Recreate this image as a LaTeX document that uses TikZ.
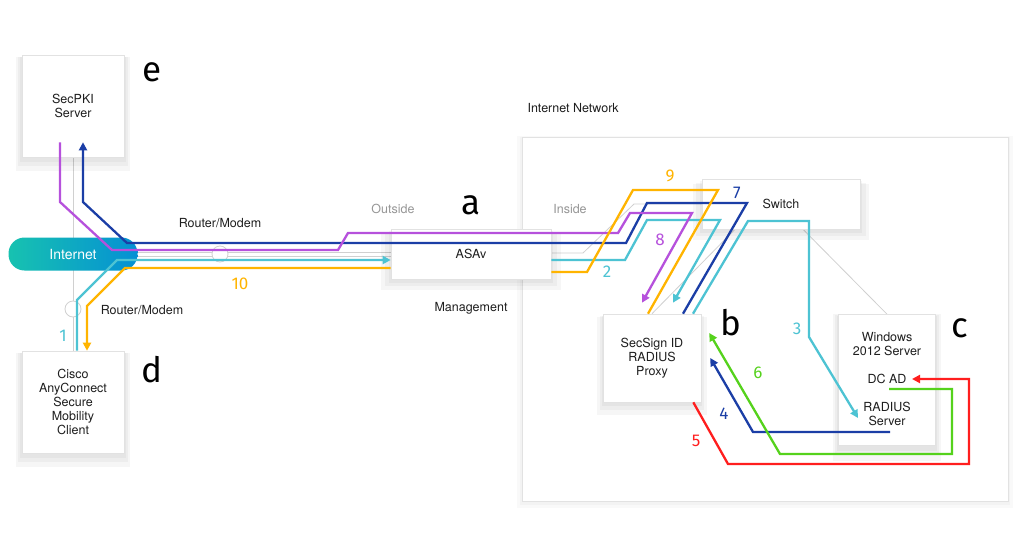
\documentclass[tikz,border=0pt]{standalone}
\usepackage{fontspec}
\setmainfont{TeX Gyre Heros}
\newfontfamily\tagfont{Fira Sans}
\usepackage{tikz}
\usepackage{xcolor}
\usetikzlibrary{arrows.meta, shadows}
\definecolor{cCyan}{RGB}{77,195,211}
\definecolor{cBlue}{RGB}{27,62,166}
\definecolor{cMagenta}{RGB}{182,81,220}
\definecolor{cOrange}{RGB}{255,180,0}
\definecolor{cRed}{RGB}{255,30,30}
\definecolor{cGreen}{RGB}{85,210,28}
\definecolor{cTeal}{RGB}{23,194,176}
\definecolor{cDeep}{RGB}{5,144,212}
\definecolor{cEdge}{RGB}{226,226,226}
\definecolor{cCable}{RGB}{208,208,208}
\definecolor{cInk}{RGB}{30,30,30}
\definecolor{cMute}{RGB}{150,150,150}
\pgfdeclarelayer{back}
\pgfdeclarelayer{cable}
\pgfsetlayers{back,cable,main}
\tikzset{
	softshadow/.style={general shadow={fill=black, opacity=0.035, shadow yshift=-7pt, shadow scale=1.12},
	                   general shadow={fill=black, opacity=0.035, shadow yshift=-5pt, shadow scale=1.07},
	                   general shadow={fill=black, opacity=0.035, shadow yshift=-3pt, shadow scale=1.03}},
	bigshadow/.style ={general shadow={fill=black, opacity=0.025, shadow yshift=-3pt, shadow scale=1.02},
	                   general shadow={fill=black, opacity=0.025, shadow yshift=-2pt, shadow scale=1.01}},
	box/.style   ={rectangle, draw=cEdge, line width=0.6pt, fill=white, text=cInk, align=center, softshadow},
	netbox/.style={rectangle, draw=cEdge, line width=0.6pt, fill=white, bigshadow},
	pill/.style  ={rectangle, rounded corners=16pt, minimum width=129pt, minimum height=33pt, left color=cTeal, right color=cDeep, text=white, font=\fontsize{14}{16}\selectfont},
	modem/.style ={circle, draw=cCable, line width=0.8pt, fill=white, minimum size=16pt, inner sep=0pt},
	cable/.style ={draw=cCable, line width=0.8pt},
	lbl/.style   ={text=cInk},
	side/.style  ={text=cMute},
	tag/.style   ={font=\tagfont\fontsize{35}{40}\selectfont, text=black, inner sep=0pt},
	num/.style   ={font=\tagfont\fontsize{17}{20}\selectfont, inner sep=0pt},
	leg/.style   ={line width=2.3pt, line join=miter},
	msg/.style   ={line width=2.3pt, line join=miter, -{Triangle[length=8pt, width=8pt]}},
}

\begin{document}
\begin{tikzpicture}[x=1pt, y=-1pt, every node/.style={font=\fontsize{12.5}{14}\selectfont, align=center}]
	\useasboundingbox (0,0) rectangle (1024,559);
	\begin{pgfonlayer}{back}
		\node[netbox, minimum width=486pt, minimum height=364pt] (net) at (765,319) {};
	\end{pgfonlayer}
	% boxes
	\node[box, minimum width=102pt, minimum height=102pt] (pki) at (73,106) {SecPKI\\Server};
	\node[box, minimum width=102pt, minimum height=102pt] (client) at (73,402) {Cisco\\AnyConnect\\Secure\\Mobility\\Client};
	\node[pill] (inet) at (73,254) {Internet};
	\node[box, minimum width=160pt, minimum height=50pt] (asav) at (471,254) {ASAv};
	\node[box, minimum width=158pt, minimum height=50pt] (switch) at (781,204) {Switch};
	\node[box, minimum width=98pt, minimum height=88pt] (proxy) at (652,358) {SecSign ID\\RADIUS\\Proxy};
	\node[box, minimum width=97pt, minimum height=131pt] (win) at (887,380) {};
	\node[lbl] (wintxt) at (887,344) {Windows\\2012 Server};
	\node[lbl] (dcad) at (887,379) {DC AD};
	\node[lbl] (radius) at (887,414) {RADIUS\\Server};
	% grey cabling
	\begin{pgfonlayer}{cable}
		\draw[cable] (pki.south) -- (client.north);
		\draw[cable] ([yshift=2pt]inet.center) -- ([yshift=2pt]asav.west);
		\draw[cable] ([yshift=-2pt]inet.center) -- ([yshift=-2pt]asav.west);
		\draw[cable] ([yshift=1pt]asav.east) -- (583,253) -- (634,204) -- (switch.west);
		\draw[cable] ([xshift=-46pt]switch.south) -- (proxy.north);
		\draw[cable] ([xshift=22pt]switch.south) -- (win.north);
		\node[modem] (modemA) at (220,254) {};
		\node[modem] (modemB) at (73,309) {};
	\end{pgfonlayer}
	% message flows
	\draw[msg, cCyan] ([xshift=4pt]client.north) -- (77,300) -- (117,260) -- ([yshift=-6pt]asav.west);
	\draw[msg, cCyan] ([yshift=-6pt]asav.east) -- (625,260) -- (647,220) -- (720,220) -- ([shift={(21pt,11pt)}]proxy.north);
	\draw[msg, cCyan] ([xshift=41pt]proxy.north) -- (748,221) -- (809,221) -- (809,337) -- ([shift={(-29pt,-4pt)}]radius.center);
	\draw[msg, cBlue] ([shift={(3pt,-18pt)}]radius.center) -- (753,432) -- ([xshift=9pt]proxy.east);
	\draw[msg, cRed] ([xshift=-8pt]proxy.south east) -- (728,464) -- (969,464) -- (969,379) -- ([xshift=25pt]dcad.center);
	\draw[msg, cGreen] ([shift={(2pt,-10pt)}]dcad.center) -- (952,389) -- (952,454) -- (780,454) -- ([shift={(8pt,25pt)}]proxy.east);
	\draw[msg, cBlue] ([xshift=31pt]proxy.north) -- (747,203) -- (647,203) -- (626,243) -- (127,243) -- (83,202) -- ([shift={(10pt,15pt)}]pki.south);
	\draw[msg, cMagenta] ([shift={(-13pt,15pt)}]pki.south) -- (60,202) -- (112,250) -- (338,250) -- (348,233) -- (618,233) -- (630,213) -- (692,213) -- ([shift={(-10pt,11pt)}]proxy.north);
	\draw[leg, cOrange] ([xshift=-4pt]proxy.north) -- (718,190) -- (633,190) -- (587,272) -- ([yshift=-18pt]asav.east);
	\draw[msg, cOrange] ([yshift=-14pt]asav.west) -- (125,268) -- (87,306) -- ([xshift=14pt]client.north);
	% labels
	\node[lbl, anchor=west] (netlbl) at (524,108) {Internet Network};
	\node[lbl] (modemtop) at (220,223) {Router/Modem};
	\node[lbl] (modembot) at (142,310) {Router/Modem};
	\node[lbl] (mgmt) at (471,308) {Management};
	\node[side] (outside) at (393,209) {Outside};
	\node[side] (inside) at (570,209) {Inside};
	\node[tag] (tage) at (152,72) {e};
	\node[tag] (tagd) at (152,370) {d};
	\node[tag] (taga) at (471,205) {a};
	\node[tag] (tagb) at (731,323) {b};
	\node[tag] (tagc) at (960,328) {c};
	\node[num, cCyan] (n1) at (63,336) {1};
	\node[num, cCyan] (n2) at (607,272) {2};
	\node[num, cCyan] (n3) at (797,329) {3};
	\node[num, cBlue] (n4) at (724,414) {4};
	\node[num, cRed] (n5) at (696,441) {5};
	\node[num, cGreen] (n6) at (758,373) {6};
	\node[num, cBlue] (n7) at (737,193) {7};
	\node[num, cMagenta] (n8) at (660,240) {8};
	\node[num, cOrange] (n9) at (670,176) {9};
	\node[num, cOrange] (n10) at (240,284) {10};
\end{tikzpicture}
\end{document}
